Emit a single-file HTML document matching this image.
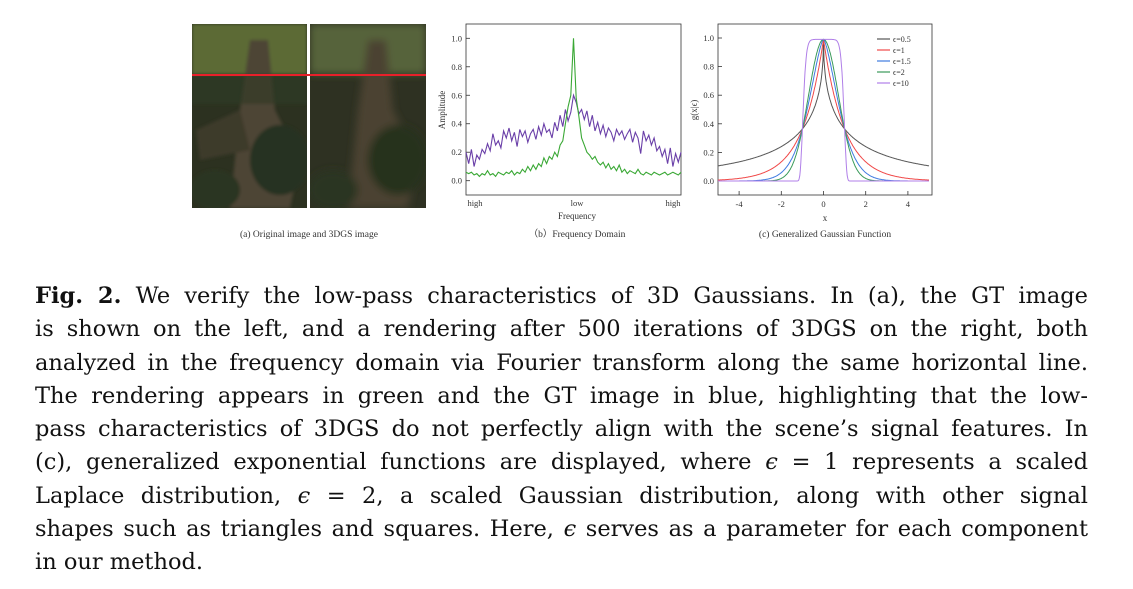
<!DOCTYPE html>
<html><head><meta charset="utf-8"><style>
body{margin:0;background:#fff;width:1133px;height:589px;overflow:hidden;position:relative;font-family:"Liberation Serif",serif}
#cap{position:absolute;left:35px;top:280px;width:1053px;font-size:22.5px;line-height:33.3px;color:#111;font-family:"DejaVu Serif","Liberation Serif",serif}
#cap div{text-align:justify;text-align-last:justify;white-space:nowrap}
#cap div.last{text-align-last:left}
svg text{font-family:"Liberation Serif",serif;fill:#333}
</style></head><body>
<svg id="fig" width="1133" height="260" style="position:absolute;left:0;top:0">
<defs>
<filter id="bl" x="-20%" y="-20%" width="140%" height="140%"><feGaussianBlur stdDeviation="4"/></filter>
<filter id="bl2" x="-20%" y="-20%" width="140%" height="140%"><feGaussianBlur stdDeviation="1.5"/></filter>
<clipPath id="c1"><rect x="192" y="24" width="115" height="184"/></clipPath>
<clipPath id="c2"><rect x="310" y="24" width="116" height="184"/></clipPath>
</defs>
<g clip-path="url(#c1)">
<rect x="192" y="24" width="115" height="184" fill="#2c3120"/>
<g filter="url(#bl2)">
<rect x="192" y="24" width="115" height="50" fill="#5b6b34"/>
<path d="M230,208 L240,110 L250,40 L268,40 L275,110 L300,160 L290,208Z" fill="#4e4434"/>
<path d="M196,130 L240,110 L250,150 L200,160Z" fill="#3e3a2a"/>
<ellipse cx="280" cy="160" rx="30" ry="35" fill="#253222"/>
<ellipse cx="215" cy="190" rx="25" ry="20" fill="#2a3520"/>
<rect x="192" y="74" width="115" height="30" fill="#2f3a24" opacity="0.6"/>
</g>
</g>
<g clip-path="url(#c2)">
<rect x="310" y="24" width="116" height="184" fill="#2e3122"/>
<g filter="url(#bl)">
<rect x="310" y="24" width="116" height="50" fill="#56633a"/>
<path d="M348,208 L358,110 L368,40 L386,40 L393,110 L418,160 L408,208Z" fill="#4c4333"/>
<ellipse cx="398" cy="160" rx="30" ry="35" fill="#27321f"/>
<ellipse cx="333" cy="190" rx="25" ry="20" fill="#2b3420"/>
</g>
</g>
<line x1="192" y1="75" x2="426" y2="75" stroke="#e8202a" stroke-width="2"/>
<text x="309" y="237" font-size="9.5" text-anchor="middle">(a) Original image and 3DGS image</text>

<g id="pb">
<rect x="466" y="24" width="215" height="171" fill="none" stroke="#333" stroke-width="0.8"/>
</g>
<g id="pc">
<rect x="718" y="24" width="214" height="171" fill="none" stroke="#333" stroke-width="0.8"/>
</g>
</svg>
<div id="cap">
<div><b>Fig. 2.</b> We verify the low-pass characteristics of 3D Gaussians. In (a), the GT image</div>
<div>is shown on the left, and a rendering after 500 iterations of 3DGS on the right, both</div>
<div>analyzed in the frequency domain via Fourier transform along the same horizontal line.</div>
<div>The rendering appears in green and the GT image in blue, highlighting that the low-</div>
<div>pass characteristics of 3DGS do not perfectly align with the scene’s signal features. In</div>
<div>(c), generalized exponential functions are displayed, where <i>ϵ</i> = 1 represents a scaled</div>
<div>Laplace distribution, <i>ϵ</i> = 2, a scaled Gaussian distribution, along with other signal</div>
<div>shapes such as triangles and squares. Here, <i>ϵ</i> serves as a parameter for each component</div>
<div class="last">in our method.</div>
</div>
<script>
const bTicks=[0,0.2,0.4,0.6,0.8,1.0];
const bXLabels=["high","low","high"];
const gtAmp=[0.20,0.12,0.22,0.10,0.18,0.15,0.22,0.19,0.26,0.21,0.33,0.25,0.28,0.23,0.35,0.30,0.37,0.28,0.34,0.24,0.36,0.31,0.35,0.27,0.33,0.36,0.29,0.38,0.32,0.40,0.34,0.36,0.30,0.41,0.35,0.46,0.38,0.50,0.42,0.48,0.60,0.55,0.47,0.50,0.43,0.49,0.38,0.46,0.35,0.41,0.33,0.39,0.31,0.37,0.34,0.28,0.36,0.32,0.35,0.29,0.33,0.36,0.27,0.34,0.30,0.19,0.35,0.28,0.32,0.25,0.30,0.21,0.24,0.17,0.22,0.12,0.23,0.10,0.19,0.13,0.20];
const renderAmp=[0.06,0.05,0.06,0.04,0.05,0.03,0.05,0.04,0.07,0.04,0.05,0.03,0.06,0.05,0.04,0.06,0.05,0.07,0.04,0.06,0.05,0.08,0.06,0.10,0.07,0.11,0.08,0.12,0.10,0.16,0.12,0.17,0.15,0.20,0.17,0.25,0.28,0.40,0.52,0.60,1.00,0.58,0.45,0.30,0.25,0.20,0.18,0.15,0.17,0.13,0.11,0.13,0.09,0.12,0.08,0.10,0.07,0.11,0.06,0.08,0.05,0.07,0.06,0.05,0.08,0.05,0.04,0.06,0.05,0.04,0.06,0.05,0.04,0.05,0.06,0.04,0.05,0.06,0.05,0.04,0.06];
const epsValues=[0.5,1,1.5,2,10];
const epsLabels=["ϵ=0.5","ϵ=1","ϵ=1.5","ϵ=2","ϵ=10"];
const cXTicks=[-4,-2,0,2,4];
const cYTicks=[0,0.2,0.4,0.6,0.8,1.0];
const NS="http://www.w3.org/2000/svg";
function mk(parent,tag,attrs,txt){const e=document.createElementNS(NS,tag);for(const k in attrs)e.setAttribute(k,attrs[k]);if(txt!==undefined)e.textContent=txt;parent.appendChild(e);return e;}
const pb=document.getElementById('pb');
const byS=v=>180.7-v*142.4;
const bxS=(i,n)=>466+i*(215/(n-1));
bTicks.forEach(t=>{
 const y=byS(t);
 const tk=mk(pb,'line',{x1:466,x2:470,y1:y,y2:y,stroke:'#333','stroke-width':0.8});
 
 
 const l=mk(pb,'text',{x:462,y:y+3,'font-size':8.5,'text-anchor':'end'},t.toFixed(1));
 
 
});
bXLabels.forEach((s,i)=>{
 const l=mk(pb,'text',{x:[475,577,673][i],y:206,'font-size':8.5,'text-anchor':'middle'},s);
 
 
});
let t1=mk(pb,'text',{x:577,y:219,'font-size':9,'text-anchor':'middle'},'Frequency');


let t2=mk(pb,'text',{x:0,y:0,'font-size':9,'text-anchor':'middle',transform:'translate(445,110) rotate(-90)'},'Amplitude');


let t3=mk(pb,'text',{x:577,y:237,'font-size':9.5,'text-anchor':'middle'},'（b）Frequency Domain');


[[gtAmp,'#6a3fa8','gt-spectrum-line'],[renderAmp,'#3aa835','render-spectrum-line']].forEach(([arr,c,nm])=>{
 const p=mk(pb,'polyline',{points:arr.map((v,i)=>bxS(i,arr.length).toFixed(1)+','+byS(v).toFixed(1)).join(' '),fill:'none',stroke:c,'stroke-width':1.1});
 
 
});
const pc=document.getElementById('pc');
const cxS=x=>823.5+x*21.1;
const cyS=v=>181+v*(-143);
cYTicks.forEach(t=>{
 const y=cyS(t);
 const tk=mk(pc,'line',{x1:718,x2:722,y1:y,y2:y,stroke:'#333','stroke-width':0.8});
 
 
 const l=mk(pc,'text',{x:714,y:y+3,'font-size':8.5,'text-anchor':'end'},t.toFixed(1));
 
 
});
cXTicks.forEach(t=>{
 const x=cxS(t);
 const tk=mk(pc,'line',{x1:x,x2:x,y1:195,y2:191,stroke:'#333','stroke-width':0.8});
 
 
 const l=mk(pc,'text',{x:x,y:207,'font-size':8.5,'text-anchor':'middle'},String(t));
 
 
});
let c1=mk(pc,'text',{x:825,y:221,'font-size':9,'text-anchor':'middle'},'x');


let c2=mk(pc,'text',{x:0,y:0,'font-size':9,'text-anchor':'middle',transform:'translate(697,110) rotate(-90)'},'g(x|ϵ)');


let c3=mk(pc,'text',{x:825,y:237,'font-size':9.5,'text-anchor':'middle'},'(c) Generalized Gaussian Function');


const colors=['#555555','#f04848','#3f7be0','#3a9a5a','#b07fe8'];
epsValues.forEach((e,k)=>{
 const pts=[];
 for(let i=0;i<=400;i++){const x=-5+i*0.025;const v=Math.exp(-Math.pow(Math.abs(x),e))*0.99;pts.push(cxS(x).toFixed(1)+','+cyS(v).toFixed(1));}
 const p=mk(pc,'polyline',{points:pts.join(' '),fill:'none',stroke:colors[k],'stroke-width':1});
 
 
 const y=39+k*11;
 const ll=mk(pc,'line',{x1:877,x2:890,y1:y,y2:y,stroke:colors[k],'stroke-width':1.2});
 
 
 const lt=mk(pc,'text',{x:893,y:y+3,'font-size':8},epsLabels[k]);
 
 
});
</script>
</body></html>
